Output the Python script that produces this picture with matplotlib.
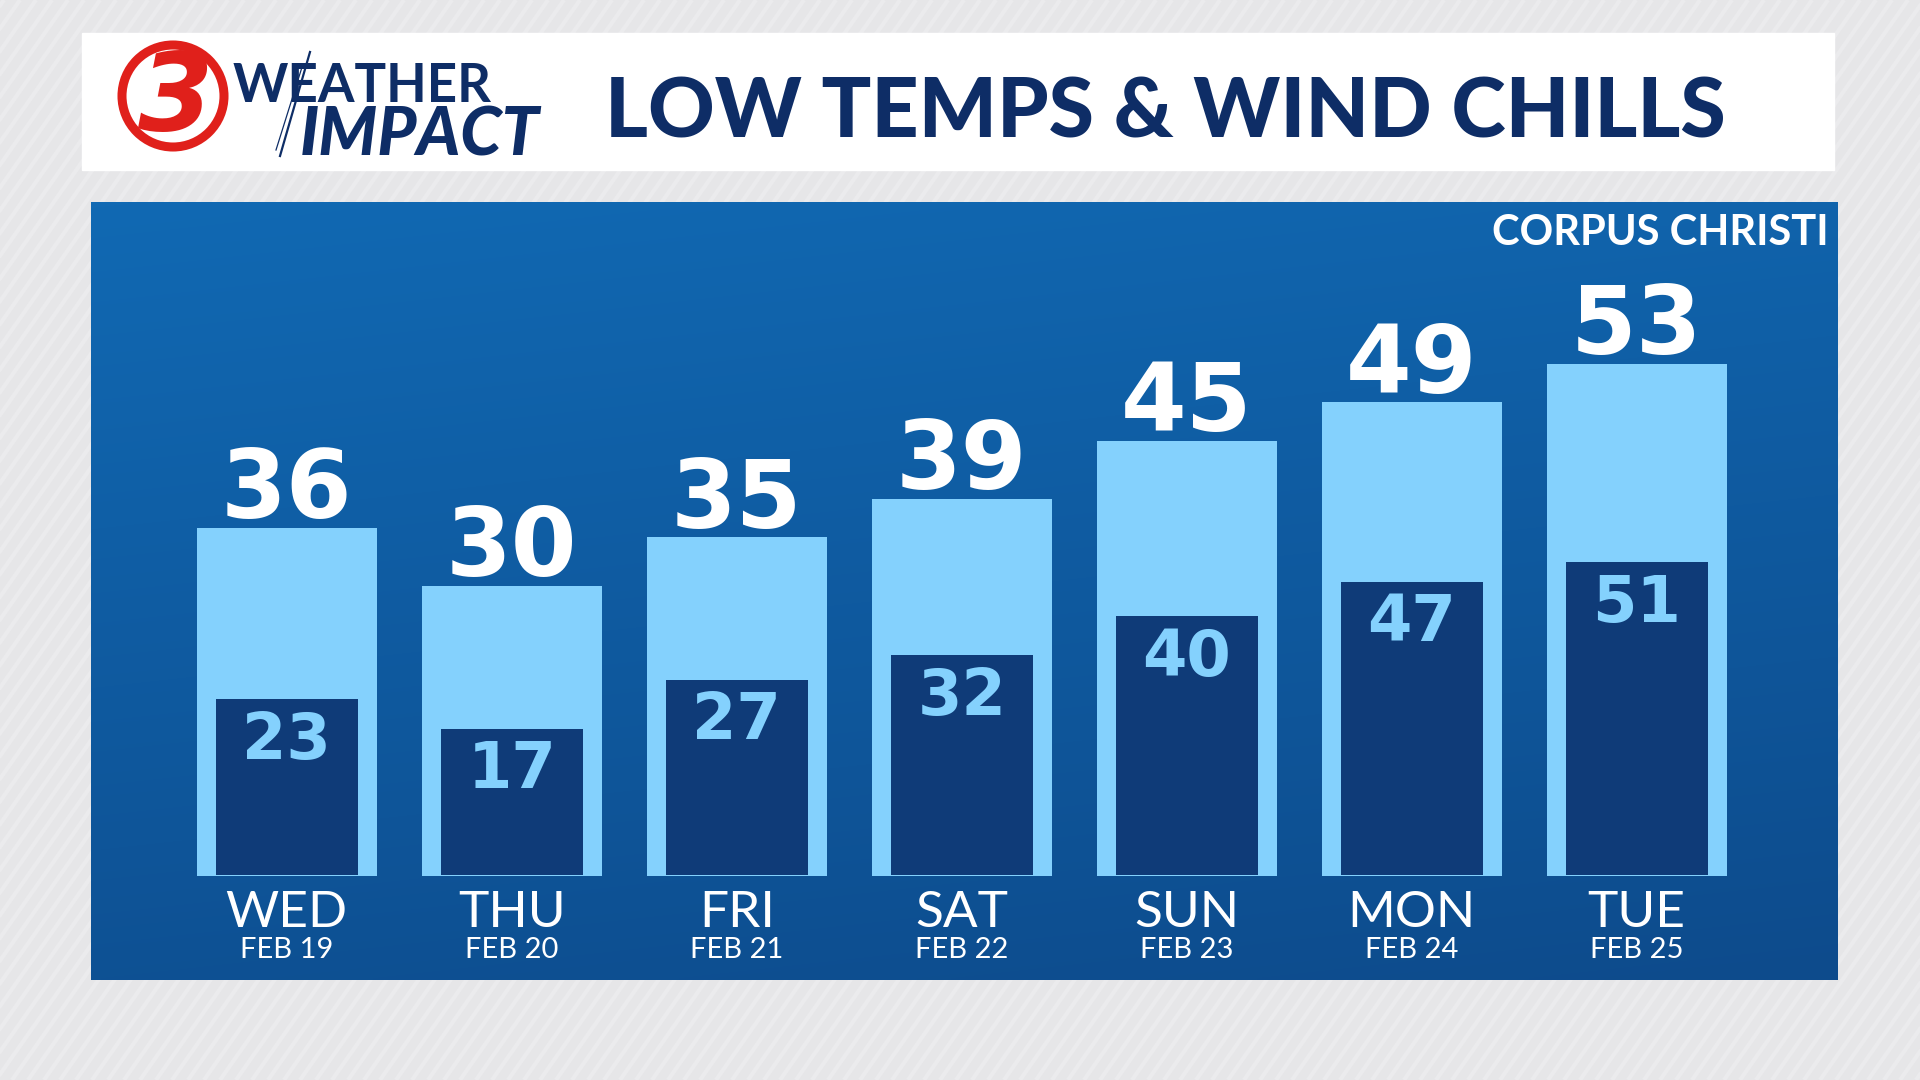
import numpy as np
import matplotlib.pyplot as plt
from matplotlib.patches import Rectangle, Circle
from matplotlib.colors import LinearSegmentedColormap

days = ['WED', 'THU', 'FRI', 'SAT', 'SUN', 'MON', 'TUE']
dates = ['FEB 19', 'FEB 20', 'FEB 21', 'FEB 22', 'FEB 23', 'FEB 24', 'FEB 25']
low_temps = [36, 30, 35, 39, 45, 49, 53]
wind_chills = [23, 17, 27, 32, 40, 47, 51]

# Colours
light_blue = '#84d1fd'
dark_blue = '#0f3b78'
navy = '#0e2d66'
logo_red = '#e0201b'

fig = plt.figure(figsize=(19.2, 10.8), dpi=100)
fig.patch.set_facecolor('#e6e6e8')

# Background layer in pixel units (y downwards)
bg = fig.add_axes([0, 0, 1, 1])
bg.set_xlim(0, 1920)
bg.set_ylim(1080, 0)
bg.axis('off')

# faint diagonal stripes on the grey backdrop
for c in range(-900, 1920, 16):
    bg.plot([c, c + 760], [1080, 0], color='#ebebed', lw=3, zorder=0,
            solid_capstyle='butt')

# white header strip
bg.add_patch(Rectangle((82, 33), 1752, 137, color='white', zorder=2))

# blue panel with a soft gradient
panel_cmap = LinearSegmentedColormap.from_list('panel', ['#1169b3', '#0d4b8c'])
yy, xx = np.mgrid[0:1:200j, 0:1:300j]
grad = 0.8 * yy + 0.2 * xx
bg.imshow(grad, cmap=panel_cmap, extent=(91, 1838, 980, 202), origin='upper',
          aspect='auto', zorder=2, interpolation='bilinear')

# logo
bg.add_patch(Circle((173, 96), 51, fill=False, lw=6.5, ec=logo_red, zorder=4))
bg.text(176, 100, '3', fontsize=78, fontweight='bold', style='italic',
        color=logo_red, ha='center', va='center', zorder=5)
bg.text(233, 102, 'WEATHER', fontsize=38, family='Lato', fontweight='bold',
        color=navy, va='baseline', zorder=5)
bg.text(300, 155, 'IMPACT', fontsize=48, family='Lato', fontweight='black',
        style='italic', color=navy, va='baseline', zorder=5)
bg.plot([310, 280], [52, 156], color=navy, lw=1.6, zorder=6)
bg.plot([303, 276], [64, 150], color=navy, lw=0.9, zorder=6)

# title
bg.text(605, 137, 'LOW TEMPS & WIND CHILLS', fontsize=59.3, family='Lato',
        fontweight='black', color=navy, va='baseline', zorder=5)

# location
bg.text(1829, 245, 'CORPUS CHRISTI', fontsize=30, family='Lato',
        fontweight='bold', color='white', ha='right', va='baseline', zorder=5)

# Bars
ax = fig.add_axes([91 / 1920, 100 / 1080, 1747 / 1920, 778 / 1080])
ax.set_facecolor('none')
x = np.arange(len(days))
ax.bar(x, low_temps, width=0.8, color=light_blue)
ax.set_xlim(-0.87, 6.895)
ax.set_ylim(-10.82, 69.74)
ax.axis('off')

# wind chills use their own (offset) scale on a twin axis
ax2 = ax.twinx()
dark_base = -13
ax2.bar(x, np.array(wind_chills) - dark_base, bottom=dark_base, width=0.63,
        color=dark_blue)
ax2.set_ylim(-34.34, 124.5)
ax2.axis('off')

for i, v in enumerate(low_temps):
    ax.annotate(str(v), (i, v), xytext=(0, 7), textcoords='offset points',
                ha='center', va='baseline', fontsize=68, fontweight='bold',
                color='white', family='DejaVu Sans')

for i, v in enumerate(wind_chills):
    ax2.annotate(str(v), (i, v), xytext=(0, -43), textcoords='offset points',
                 ha='center', va='baseline', fontsize=46, fontweight='bold',
                 color=light_blue, family='DejaVu Sans')

for i in range(len(days)):
    ax.annotate(days[i], (i, 0), xytext=(0, -37), textcoords='offset points',
                ha='center', va='baseline', fontsize=37, family='Lato',
                color='white')
    ax.annotate(dates[i], (i, 0), xytext=(0, -59.4), textcoords='offset points',
                ha='center', va='baseline', fontsize=21, family='Lato',
                color='white')

fig.savefig('out.png', dpi=100, facecolor=fig.get_facecolor())
